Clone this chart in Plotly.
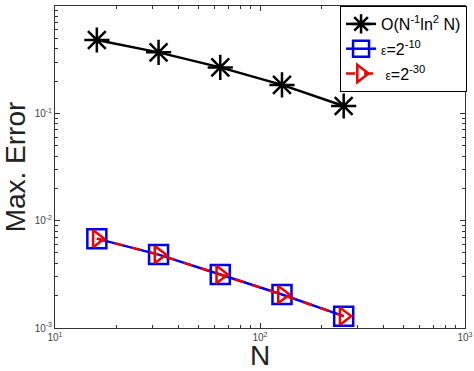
import plotly.graph_objects as go

N = [16, 32, 64, 128, 256]
err_ref = [0.482, 0.37, 0.268, 0.184, 0.117]
err_e10 = [0.0068, 0.00483, 0.00315, 0.00205, 0.00129]
err_e30 = [0.0068, 0.00483, 0.00315, 0.00205, 0.00129]

names = ["O(N<sup>-1</sup>ln<sup>2</sup> N)",
         "<span style='font-size:12px'>\u03b5</span>=2<sup>-10</sup>",
         " <span style='font-size:12px'>\u03b5</span>=2<sup>-30</sup>"]

x_tickvals = [10, 100, 1000]
x_ticktext = ["10<sup>1</sup>", "10<sup>2</sup>", "10<sup>3</sup>"]
y_tickvals = [0.001, 0.01, 0.1, 1]
y_ticktext = ["10<sup>-3</sup>", "10<sup>-2</sup>", "10<sup>-1</sup>", "10<sup>0</sup>"]

x_minor = [m * 10 ** e for e in (1, 2) for m in range(2, 10)]
y_minor = [m * 10 ** e for e in (-3, -2, -1) for m in range(2, 10)]

fig = go.Figure()
fig.add_trace(go.Scatter(x=N, y=err_ref, name=names[0], mode="lines+markers", legendgroup="a",
                         line=dict(color="black", width=2.5),
                         marker=dict(symbol="asterisk-open", size=21, line=dict(color="black", width=2.5))))
fig.add_trace(go.Scatter(x=N, y=err_e10, name=names[1], mode="lines+markers", legendgroup="b",
                         line=dict(color="#0000ee", width=2.5),
                         marker=dict(symbol="square-open", size=19, color="#0000ee", line=dict(color="#0000ee", width=2.5))))
fig.add_trace(go.Scatter(x=N, y=err_e30, name=names[2], mode="lines+markers", legendgroup="c",
                         line=dict(color="#ee0000", width=2.5, dash="dash"),
                         marker=dict(symbol="triangle-right-open", size=15, color="#ee0000", line=dict(color="#ee0000", width=2.5))))

axis_common = dict(showgrid=False, zeroline=False, showline=True, linecolor="#333", linewidth=1,
                   mirror="allticks", ticks="inside", ticklen=5, tickcolor="#333", automargin=False,
                   tickfont=dict(size=10, color="#444"))

fig.update_xaxes(type="log", range=[1, 3], tickvals=x_tickvals, ticktext=x_ticktext,
                 minor=dict(tickvals=x_minor, ticks="inside", ticklen=3, tickcolor="#333"),
                 title=dict(text="N", font=dict(size=28, color="#222"), standoff=6), **axis_common)
fig.update_yaxes(type="log", range=[-3, 0], tickvals=y_tickvals, ticktext=y_ticktext,
                 minor=dict(tickvals=y_minor, ticks="inside", ticklen=3, tickcolor="#333"),
                 title=dict(text="Max. Error", font=dict(size=28, color="#222"), standoff=4), **axis_common)

fig.update_layout(
    width=474, height=371,
    margin=dict(l=55, r=9, t=6, b=43),
    paper_bgcolor="white", plot_bgcolor="white",
    font=dict(family="Liberation Sans, Arial, sans-serif", color="black"),
    showlegend=True,
    legend=dict(x=1.005, y=1.0, xanchor="right", yanchor="top", bgcolor="white",
                bordercolor="black", borderwidth=1, font=dict(size=16),
                tracegroupgap=1, itemwidth=30),
)

fig.write_html("out.html", config={"displayModeBar": False},
               post_script="document.body.style.margin='0';")
